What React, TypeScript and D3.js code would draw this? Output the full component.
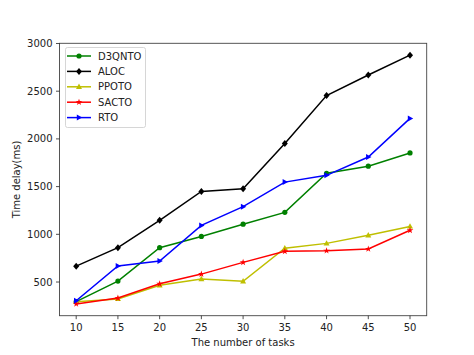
import React from "react";
import * as d3 from "d3";

const tasks = [10, 15, 20, 25, 30, 35, 40, 45, 50];
const d3qnto = [295, 510, 860, 978, 1106, 1230, 1640, 1714, 1853];
const aloc = [666, 860, 1147, 1450, 1477, 1952, 2455, 2670, 2878];
const ppoto = [292, 323, 466, 532, 508, 855, 905, 990, 1083];
const sacto = [270, 332, 481, 583, 706, 822, 828, 846, 1042];
const rto = [304, 668, 720, 1093, 1290, 1547, 1618, 1810, 2215];
const yTicks = [500, 1000, 1500, 2000, 2500, 3000];
const seriesNames = ["D3QNTO", "ALOC", "PPOTO", "SACTO", "RTO"];
const seriesColors = ["#008000", "#000000", "#bfbf00", "#ff0000", "#0000ff"];
const seriesMarkers = ["circle", "diamond", "triUp", "star", "triRight"];

const W = 474, H = 355;
const left = 59.5, right = 426.7, top = 43.3, bottom = 315.7;

function Marker({ type, x, y, color }: { type: string; x: number; y: number; color: string }) {
  if (type === "circle") return <circle cx={x} cy={y} r={2.6} fill={color} />;
  if (type === "diamond")
    return <path d={`M${x},${y - 3.5}L${x + 3},${y}L${x},${y + 3.5}L${x - 3},${y}Z`} fill={color} />;
  if (type === "triUp")
    return <path d={`M${x},${y - 3.2}L${x + 3},${y + 2.2}L${x - 3},${y + 2.2}Z`} fill={color} />;
  if (type === "triRight")
    return <path d={`M${x + 3.2},${y}L${x - 2.2},${y - 3}L${x - 2.2},${y + 3}Z`} fill={color} />;
  const star = d3.symbol(d3.symbolStar, 14)();
  return <path d={star || ""} transform={`translate(${x},${y})`} fill={color} />;
}

export default function App() {
  const x = d3.scaleLinear().domain([8, 52]).range([left, right]);
  const y = d3.scaleLinear().domain([147, 3002]).range([bottom, top]);
  const data = [d3qnto, aloc, ppoto, sacto, rto];
  const line = d3
    .line<number>()
    .x((_, i) => x(tasks[i]))
    .y((d) => y(d));
  const font = "DejaVu Sans, sans-serif";
  const legX = 65.5, legY = 47.5, legW = 80, legH = 80;
  return (
    <svg width={W} height={H} style={{ position: "absolute", left: 0, top: 0 }} fontFamily={font}>
      <rect width={W} height={H} fill="#fff" />
      {data.map((s, k) => (
        <g key={k}>
          <path d={line(s) || ""} fill="none" stroke={seriesColors[k]} strokeWidth={1.5} />
          {s.map((v, i) => (
            <Marker key={i} type={seriesMarkers[k]} x={x(tasks[i])} y={y(v)} color={seriesColors[k]} />
          ))}
        </g>
      ))}
      <rect x={left} y={top} width={right - left} height={bottom - top} fill="none" stroke="#444" strokeWidth={0.9} />
      {tasks.map((t) => (
        <g key={t}>
          <line x1={x(t)} x2={x(t)} y1={bottom} y2={bottom + 3.5} stroke="#222" strokeWidth={0.8} />
          <text x={x(t)} y={bottom + 15} fontSize={10} textAnchor="middle" fill="#222">
            {t}
          </text>
        </g>
      ))}
      {yTicks.map((t) => (
        <g key={t}>
          <line x1={left - 3.5} x2={left} y1={y(t)} y2={y(t)} stroke="#222" strokeWidth={0.8} />
          <text x={left - 7} y={y(t)} dy="0.35em" fontSize={10} textAnchor="end" fill="#222">
            {t}
          </text>
        </g>
      ))}
      <text x={(left + right) / 2} y={346} fontSize={10} textAnchor="middle" fill="#222">
        The number of tasks
      </text>
      <text
        transform={`translate(19.5,${(top + bottom) / 2}) rotate(-90)`}
        fontSize={10}
        textAnchor="middle"
        fill="#222"
      >
        Time delay(ms)
      </text>
      <rect x={legX} y={legY} width={legW} height={legH} rx={2} fill="#fff" fillOpacity={0.8} stroke="#ccc" strokeWidth={0.8} />
      {seriesNames.map((n, k) => {
        const cy = 56 + k * 15.4;
        return (
          <g key={n}>
            <line x1={67} x2={91} y1={cy} y2={cy} stroke={seriesColors[k]} strokeWidth={1.5} />
            <Marker type={seriesMarkers[k]} x={79} y={cy} color={seriesColors[k]} />
            <text x={98} y={cy} dy="0.35em" fontSize={10} fill="#222">
              {n}
            </text>
          </g>
        );
      })}
    </svg>
  );
}
